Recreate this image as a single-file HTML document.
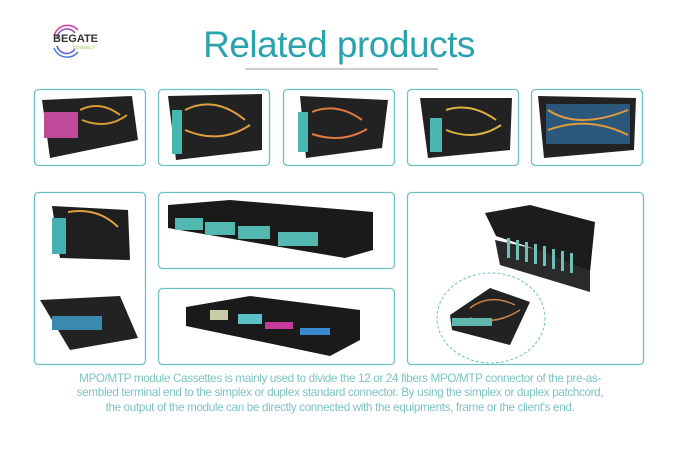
<!DOCTYPE html>
<html><head><meta charset="utf-8"><style>
html,body{margin:0;padding:0;background:#fff;width:680px;height:453px;overflow:hidden;font-family:"Liberation Sans",sans-serif}
.t{position:absolute;left:0;width:680px;text-align:center;color:#7cc4c2;font-size:11.7px;letter-spacing:-0.35px}
</style></head><body>
<svg width="680" height="453" style="position:absolute;left:0;top:0" xmlns="http://www.w3.org/2000/svg">
<g fill="none" stroke-width="1.5">
<path d="M54 36 A14 14 0 0 1 78 30" stroke="#d03a9a"/>
<path d="M57 38 A10 10 0 0 1 75 33" stroke="#9a4ac0"/>
<path d="M54 48 A14 14 0 0 0 78 52" stroke="#4a7ad8"/>
<path d="M57 46 A10 10 0 0 0 75 49" stroke="#6a5ad0"/>
</g>
<text x="53" y="42" font-family="Liberation Sans" font-weight="bold" font-size="11" fill="#333">BEGATE</text>
<text x="73" y="49" font-family="Liberation Sans" font-style="italic" font-size="4.5" fill="#8cc63f">CONNECT</text>
<text x="339" y="57" text-anchor="middle" font-family="Liberation Sans" font-size="37" fill="#2aa3ad" letter-spacing="-0.5">Related products</text>
<line x1="245" y1="69" x2="438" y2="69" stroke="#999" stroke-width="1"/>
<g fill="#fff" stroke="#6ec2c6" stroke-width="1.3">
<rect x="34.5" y="89.5" width="111" height="76" rx="4"/>
<rect x="158.5" y="89.5" width="111" height="76" rx="4"/>
<rect x="283.5" y="89.5" width="111" height="76" rx="4"/>
<rect x="407.5" y="89.5" width="111" height="76" rx="4"/>
<rect x="531.5" y="89.5" width="111" height="76" rx="4"/>
<rect x="34.5" y="192.5" width="111" height="172" rx="4"/>
<rect x="158.5" y="192.5" width="236" height="76" rx="4"/>
<rect x="158.5" y="288.5" width="236" height="76" rx="4"/>
<rect x="407.5" y="192.5" width="236" height="172" rx="4"/>
</g>
<g>
<polygon points="42,100 132,96 138,140 50,158" fill="#222"/>
<rect x="44" y="112" width="34" height="26" fill="#c04a9a"/>
<path d="M80 110 q20 -10 40 5 M82 120 q25 10 45 -5" stroke="#d9a030" stroke-width="2" fill="none"/>
<polygon points="168,96 262,94 262,150 176,160" fill="#222"/>
<rect x="172" y="110" width="10" height="44" fill="#44b8b0"/>
<path d="M185 110 q30 -15 60 10 M185 130 q35 15 65 -5" stroke="#e0a040" stroke-width="2" fill="none"/>
<polygon points="300,96 388,100 382,148 306,158" fill="#222"/>
<rect x="298" y="112" width="10" height="40" fill="#4ab8b0"/>
<path d="M312 112 q25 -10 50 8 M312 134 q30 10 55 -5" stroke="#e07a40" stroke-width="2" fill="none"/>
<polygon points="420,98 512,98 510,150 428,158" fill="#222"/>
<rect x="430" y="118" width="12" height="34" fill="#4ab8b0"/>
<path d="M446 110 q25 -8 50 10 M446 130 q30 12 55 -5" stroke="#e0b040" stroke-width="2" fill="none"/>
<polygon points="538,96 636,98 634,150 544,158" fill="#222"/>
<rect x="546" y="104" width="84" height="40" fill="#2f6fa0" opacity="0.7"/>
<path d="M548 110 q30 20 80 0 M548 130 q40 -15 80 5" stroke="#e09a40" stroke-width="2" fill="none"/>
</g>
<polygon points="52,206 128,210 130,260 60,258" fill="#1e1e1e"/>
<rect x="52" y="218" width="14" height="36" fill="#44b0b0"/>
<path d="M68 212 q30 -5 50 15" stroke="#e0a040" stroke-width="2" fill="none"/>
<polygon points="40,300 120,296 138,338 70,350" fill="#222"/>
<rect x="52" y="316" width="50" height="14" fill="#3a8ab0"/>
<polygon points="168,205 230,200 373,212 373,250 345,258 168,228" fill="#1a1a1a"/>
<g fill="#52b8b0">
<rect x="175" y="218" width="28" height="12"/><rect x="205" y="222" width="30" height="13"/><rect x="238" y="226" width="32" height="13"/><rect x="278" y="232" width="40" height="14"/>
</g>
<polygon points="186,307 250,296 360,310 360,340 330,356 186,326" fill="#1a1a1a"/>
<rect x="210" y="310" width="18" height="10" fill="#c8cda8"/>
<rect x="238" y="314" width="24" height="10" fill="#5cc0c8"/>
<rect x="265" y="322" width="28" height="7" fill="#c83a9a"/>
<rect x="300" y="328" width="30" height="7" fill="#3a8ad0"/>
<polygon points="485,213 530,205 595,222 590,272 538,250 496,236" fill="#1c1c1c"/>
<polygon points="495,240 540,250 590,272 590,292 500,265" fill="#2a2a2a"/>
<g fill="#70c0b8"><rect x="507" y="238" width="3" height="20"/><rect x="516" y="240" width="3" height="20"/><rect x="525" y="242" width="3" height="20"/><rect x="534" y="244" width="3" height="20"/><rect x="543" y="246" width="3" height="20"/><rect x="552" y="249" width="3" height="20"/><rect x="561" y="251" width="3" height="20"/><rect x="570" y="253" width="3" height="20"/></g>
<ellipse cx="491" cy="318" rx="54" ry="45" fill="none" stroke="#6ec2c6" stroke-width="1" stroke-dasharray="3,2"/>
<polygon points="450,315 490,288 530,302 510,345 452,330" fill="#222"/>
<path d="M470 308 q20 -15 45 -3 M470 318 q25 8 50 -8" stroke="#d08040" stroke-width="1.5" fill="none"/>
<rect x="452" y="318" width="40" height="8" fill="#60b8b0"/>
</svg>
<div class="t" style="top:372px">MPO/MTP module Cassettes is mainly used to divide the 12 or 24 fibers MPO/MTP connector of the pre-as-</div>
<div class="t" style="top:386px">sembled terminal end to the simplex or duplex standard connector. By using the simplex or duplex patchcord,</div>
<div class="t" style="top:401px">the output of the module can be directly connected with the equipments, frame or the client's end.</div>
</body></html>
